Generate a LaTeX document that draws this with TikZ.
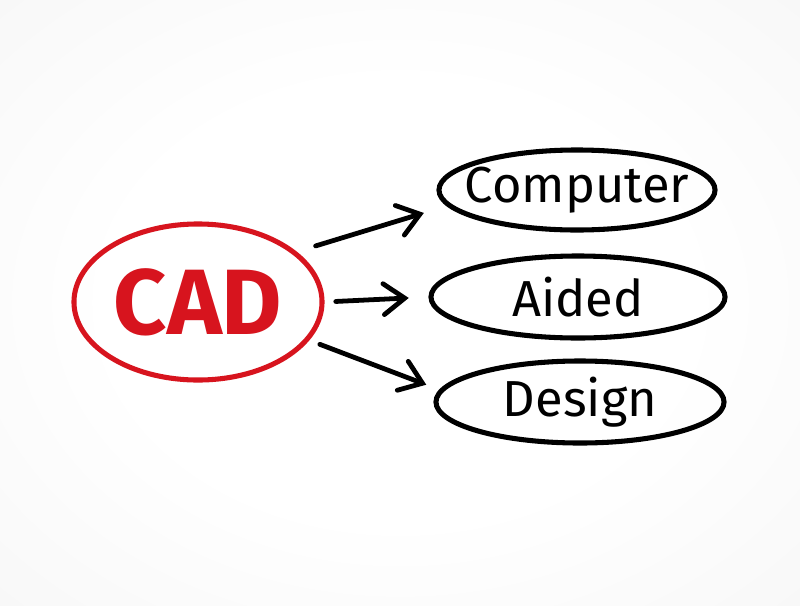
\documentclass[tikz,border=0pt]{standalone}
\usepackage{fontspec}
\setmainfont{Fira Sans}
\usetikzlibrary{arrows.meta, shapes.geometric, positioning}
\definecolor{cadred}{HTML}{D7141E}
\pgfdeclareradialshading{paperglow}{\pgfpoint{0bp}{0bp}}{%
    color(0bp)=(white); color(18bp)=(white); color(50bp)=(black!5); color(72bp)=(black!7)}
\newcommand{\oneword}[1]{\makebox[0pt]{#1}}
\tikzset{
    oval/.style={ellipse, draw, line width=3.6pt, inner sep=0pt},
    word/.style={font=\fontsize{36}{40}\selectfont},
    pointer/.style={line width=3.4pt, line cap=round, -{Straight Barb[length=15pt, width=22pt, line cap=round]}}
}

\begin{document}
\begin{tikzpicture}[x=0.025cm, y=-0.025cm]
    \shade[shading=paperglow] (0, 0) rectangle (800, 605);
    \useasboundingbox (0, 0) rectangle (800, 605);
    \node[oval, draw=cadred, text=cadred, minimum width=6.2cm, minimum height=3.9cm, font=\fontsize{66}{70}\selectfont\bfseries] (cad) at (198, 302) {\oneword{CAD}};
    \node[oval, word, minimum width=6.9cm, minimum height=2cm] (comp) at (577, 190) {\oneword{Computer}};
    \node[oval, word, minimum width=7.35cm, minimum height=2.05cm] (aided) at (578, 297) {\oneword{Aided}};
    \node[oval, word, minimum width=7.2cm, minimum height=2.05cm] (design) at (580, 402) {\oneword{Design}};
    \draw
    (cad.27) edge[pointer, shorten <=14pt, shorten >=17pt] (comp.187)
    (cad.0) edge[pointer, shorten <=8pt, shorten >=14pt] (aided.180)
    (cad.-19) edge[pointer, shorten <=8pt, shorten >=10pt] (design.175);
\end{tikzpicture}
\end{document}
